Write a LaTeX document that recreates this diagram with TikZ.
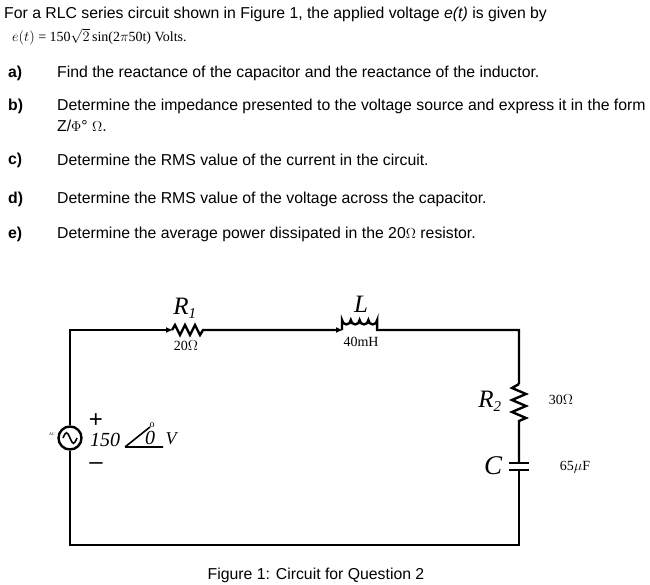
\documentclass[tikz,border=0pt]{standalone}
\usepackage{fontspec}
\setmainfont{Liberation Serif}
\setsansfont{Liberation Sans}
\usetikzlibrary{arrows.meta}
\begin{document}
\begin{tikzpicture}[x=1pt,y=-1pt,
  q/.style={anchor=west,font=\sffamily\fontsize{15.8}{18}\selectfont,inner sep=0},
  ql/.style={anchor=west,font=\sffamily\bfseries\fontsize{15.8}{18}\selectfont,inner sep=0},
  lab/.style={font=\fontsize{14}{16}\selectfont,inner sep=0},
  big/.style={font=\itshape\fontsize{25}{27}\selectfont,inner sep=0},
  w/.style={line width=2.4pt}]
\useasboundingbox (0,0) rectangle (650,584);
\node[q] (t0) at (4,14) {For a RLC series circuit shown in Figure 1, the applied voltage \emph{e(t)} is given by};
\node[anchor=west,inner sep=0,font=\fontsize{14}{16}\selectfont] (t1) at (12,37) {$e(t)$ = 150$\sqrt{2}$\,sin(2$\pi$50t) Volts.};
\node[ql] (la) at (8,73) {a)}; \node[q] (qa) at (57,73) {Find the reactance of the capacitor and the reactance of the inductor.};
\node[ql] (lb) at (8,106) {b)}; \node[q] (qb) at (57,106) {Determine the impedance presented to the voltage source and express it in the form};
\node[q] (qb2) at (57,126) {Z/$\Phi$° $\Omega$.};
\node[ql] (lc) at (8,160) {c)}; \node[q] (qc) at (57,160) {Determine the RMS value of the current in the circuit.};
\node[ql] (ld) at (8,199) {d)}; \node[q] (qd) at (57,199) {Determine the RMS value of the voltage across the capacitor.};
\node[ql] (le) at (8,234) {e)}; \node[q] (qe) at (57,234) {Determine the average power dissipated in the 20$\Omega$ resistor.};
% circuit
\coordinate (tl) at (70,330); \coordinate (tr) at (519,330);
\coordinate (bl) at (70,545); \coordinate (br) at (519,545);
\node[circle,draw,line width=2.4pt,minimum size=23pt,inner sep=0] (src) at (70,438) {};
\draw[line width=1.6pt] (63,438) .. controls (66,431) and (67,431) .. (70,438) .. controls (73,445) and (74,445) .. (77,438);
\node[font=\fontsize{4}{4}\selectfont,inner sep=0] (acl) at (52,434) {AC};
\draw[w] (src.north) -- (tl) -- (166,330);
\draw[w,-{Latex[length=7pt,width=6pt]}] (150,330) -- (173,330);
\draw[w] (172,330) -- (175,325) -- (180,335) -- (185,325) -- (190,335) -- (195,325) -- (200,335) -- (203,330) -- (335,330);
\draw[w,-{Latex[length=7pt,width=6pt]}] (320,330) -- (343,330);
\draw[w] (342,330) -- (342,320) arc (180:0:4.4) arc (180:0:4.4) arc (180:0:4.4) arc (180:0:4.4) -- (377,330) -- (tr) -- (519,384);
\draw[w] (519,384) -- (512,388) -- (526,394) -- (512,400) -- (526,406) -- (512,412) -- (526,418) -- (519,421) -- (519,463);
\draw[w] (509,463) -- (529,463); \draw[w] (509,470) -- (529,470);
\draw[w] (519,470) -- (br) -- (bl) -- (src.south);
\node[big] (r1) at (185,308) {R\textsubscript{\fontsize{15}{15}\selectfont 1}};
\node[lab] (r1v) at (186,346) {20$\Omega$};
\node[big] (lL) at (361,304) {L};
\node[lab] (lv) at (361,342) {40mH};
\node[big] (r2) at (490,401) {R\textsubscript{\fontsize{15}{15}\selectfont 2}};
\node[lab] (r2v) at (561,400) {30$\Omega$};
\node[big,font=\fontsize{27}{27}\selectfont\itshape] (cl) at (493,466) {C};
\node[lab] (cv) at (575,467) {65$\mu$F};
\node[font=\sffamily\fontsize{24}{24}\selectfont,inner sep=0] (plus) at (96,421) {+};
\node[font=\sffamily\fontsize{24}{24}\selectfont,inner sep=0] (minus) at (96,466) {\textendash};
\node[anchor=west,inner sep=0,font=\itshape\fontsize{20}{20}\selectfont] (vs) at (90,440) {150};
\draw[line width=1.6pt] (125,447) -- (163,447) (125,447) -- (150,427);
\node[inner sep=0,font=\itshape\fontsize{20}{20}\selectfont] (z) at (150,438) {0};
\node[inner sep=0,font=\fontsize{10}{10}\selectfont] (deg) at (152,425) {o};
\node[inner sep=0,font=\itshape\fontsize{18}{18}\selectfont] (vv) at (171,439) {V};
\node[font=\sffamily\fontsize{15.8}{18}\selectfont,inner sep=0] (cap) at (316,575) {Figure 1: Circuit for Question 2};
\end{tikzpicture}
\end{document}
